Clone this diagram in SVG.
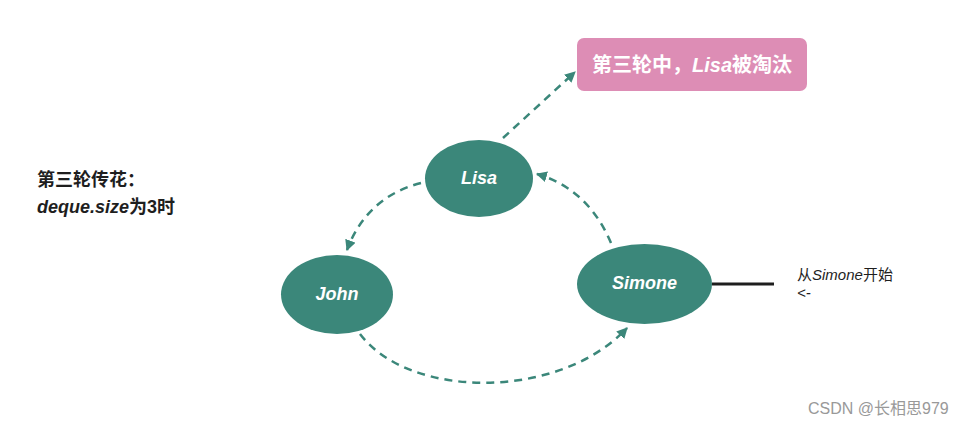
<svg xmlns="http://www.w3.org/2000/svg" width="974" height="426" viewBox="0 0 974 426">
<style>
.node{fill:#3b877a;}
.lbl{fill:#ffffff;font-family:"Liberation Sans","Noto Sans CJK SC",sans-serif;font-size:18px;font-weight:bold;font-style:italic;text-anchor:middle;dominant-baseline:central;}
.edge{fill:none;stroke:#3b877a;stroke-width:2.5;stroke-dasharray:8 6;}
.note{font-family:"Liberation Sans","Noto Sans CJK SC",sans-serif;fill:#1e1e1e;}
</style>
<defs>
<marker id="arr" viewBox="0 0 10 10" refX="9" refY="5" markerWidth="11" markerHeight="11" markerUnits="userSpaceOnUse" orient="auto">
<path d="M0,0 L10,5 L0,10 z" fill="#3b877a"/>
</marker>
</defs>
<rect width="974" height="426" fill="#ffffff"/>
<g id="connectors">
<path class="edge" d="M503,138 L575,72" marker-end="url(#arr)"/>
<path class="edge" d="M611,243 C598,212 575,185 537,174" marker-end="url(#arr)"/>
<path class="edge" d="M421,183 C385,192 360,215 347,250" marker-end="url(#arr)"/>
<path class="edge" d="M360,334 C410,400 560,400 627,328" marker-end="url(#arr)"/>
<path d="M712,284 L774,284" stroke="#1e1e1e" stroke-width="3" fill="none"/>
</g>
<g id="note-box">
<rect x="577" y="38" width="230" height="53" rx="7" fill="#dd8db5"/>
<text x="692" y="65" fill="#ffffff" font-family="Liberation Sans,Noto Sans CJK SC,sans-serif" font-size="20" font-weight="bold" text-anchor="middle" dominant-baseline="central">第三轮中，<tspan font-style="italic">Lisa</tspan>被淘汰</text>
</g>
<g id="lisa">
<ellipse class="node" cx="479" cy="178.5" rx="54" ry="38.5"/>
<text class="lbl" x="479" y="178">Lisa</text>
</g>
<g id="john">
<ellipse class="node" cx="337" cy="294.5" rx="56" ry="39.5"/>
<text class="lbl" x="337" y="294">John</text>
</g>
<g id="simone">
<ellipse class="node" cx="644.5" cy="284" rx="67.5" ry="40"/>
<text class="lbl" x="644.5" y="283">Simone</text>
</g>
<g id="title">
<text class="note" x="37" y="186" font-size="18" font-weight="bold">第三轮传花：</text>
<text class="note" x="37" y="213" font-size="18" font-weight="bold"><tspan font-style="italic">deque.size</tspan>为3时</text>
</g>
<g id="start-note">
<text class="note" x="797" y="280" font-size="15">从<tspan font-style="italic">Simone</tspan>开始</text>
<text class="note" x="797" y="298" font-size="15" font-style="italic">&lt;-</text>
</g>
<text x="808" y="414" font-family="Liberation Sans,Noto Sans CJK SC,sans-serif" font-size="16" fill="#999999">CSDN @长相思979</text>
</svg>
